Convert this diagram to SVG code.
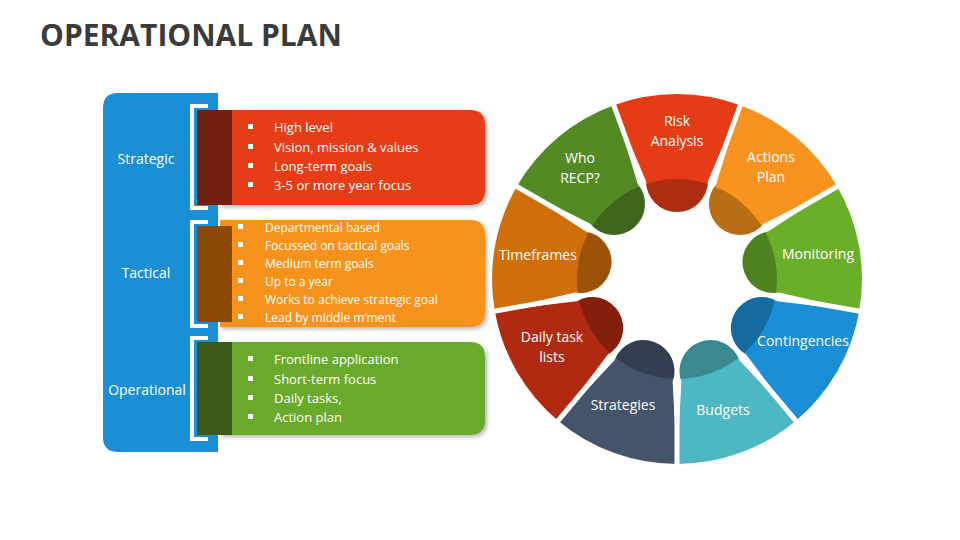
<svg xmlns="http://www.w3.org/2000/svg" width="960" height="540" viewBox="0 0 960 540">
<defs>
<style>
text{font-family:"Open Sans","Noto Sans","Liberation Sans",sans-serif;fill:#fff}
.t{font-size:30px;font-weight:bold;fill:#3b3b3b}
.lab{font-size:14px;text-anchor:middle;dominant-baseline:central}
.b{font-size:13px;dominant-baseline:central}
.bs{font-size:12px;dominant-baseline:central}
.br{fill:none;stroke:#fff;stroke-width:4}
.ov{fill:#000;fill-opacity:0.25}
.gap{stroke:#fff;stroke-width:5}
</style>
<path id="sg" d="M-63.27 -173.84 A185 185 0 0 1 63.27 -173.84 L31 -98 A31 31 0 0 1 -31 -98 Z"/>
<clipPath id="ic"><circle cx="0" cy="0" r="100"/></clipPath>
<filter id="sh" x="-5%" y="-10%" width="115%" height="125%"><feDropShadow dx="2" dy="2" stdDeviation="2" flood-opacity="0.3"/></filter>
</defs>
<rect width="960" height="540" fill="#fff"/>
<text class="t" x="40" y="46">OPERATIONAL PLAN</text>

<g id="panel">
<path d="M118 93 H218 V452 H118 Q103 452 103 437 V108 Q103 93 118 93 Z" fill="#1a8fd6"/>
<text class="lab" x="146" y="158">Strategic</text>
<text class="lab" x="146" y="272">Tactical</text>
<text class="lab" x="147" y="389">Operational</text>
</g>

<g id="strategic">
<path class="br" d="M208 106 H192 V208 H208"/>
<path d="M220 110 H470 Q485 110 485 125 V190 Q485 205 470 205 H220 Z" fill="#e63c16" filter="url(#sh)"/>
<rect x="197" y="110" width="35" height="95" fill="#722010"/>
<g fill="#fff"><rect x="248" y="124" width="5" height="5"/><rect x="248" y="144" width="5" height="5"/><rect x="248" y="163" width="5" height="5"/><rect x="248" y="182" width="5" height="5"/></g>
<text class="b" x="274" y="127">High level</text>
<text class="b" x="274" y="147">Vision, mission &amp; values</text>
<text class="b" x="274" y="166">Long-term goals</text>
<text class="b" x="274" y="185">3-5 or more year focus</text>
</g>

<g id="tactical">
<path class="br" d="M208 222 H192 V326 H208"/>
<path d="M220 220 H470 Q485 220 485 235 V312 Q485 327 470 327 H220 Z" fill="#f7931e" filter="url(#sh)"/>
<rect x="197" y="226" width="35" height="96" fill="#8a4a05"/>
<g fill="#fff"><rect x="238" y="224" width="5" height="5"/><rect x="238" y="242" width="5" height="5"/><rect x="238" y="260" width="5" height="5"/><rect x="238" y="278" width="5" height="5"/><rect x="238" y="296" width="5" height="5"/><rect x="238" y="314" width="5" height="5"/></g>
<text class="bs" x="265" y="227">Departmental based</text>
<text class="bs" x="265" y="245">Focussed on tactical goals</text>
<text class="bs" x="265" y="263">Medium term goals</text>
<text class="bs" x="265" y="281">Up to a year</text>
<text class="bs" x="265" y="299">Works to achieve strategic goal</text>
<text class="bs" x="265" y="317">Lead by middle m’ment</text>
</g>

<g id="operational">
<path class="br" d="M208 338 H192 V439 H208"/>
<path d="M220 342 H470 Q485 342 485 357 V420 Q485 435 470 435 H220 Z" fill="#6aaa2a" filter="url(#sh)"/>
<rect x="197" y="342" width="35" height="93" fill="#3a5a16"/>
<g fill="#fff"><rect x="248" y="356" width="5" height="5"/><rect x="248" y="376" width="5" height="5"/><rect x="248" y="395" width="5" height="5"/><rect x="248" y="414" width="5" height="5"/></g>
<text class="b" x="274" y="359">Frontline application</text>
<text class="b" x="274" y="379">Short-term focus</text>
<text class="b" x="274" y="398">Daily tasks,</text>
<text class="b" x="274" y="417">Action plan</text>
</g>

<g id="ring" transform="translate(677 279)">
<g id="seg-risk"><use href="#sg" fill="#e63c16"/><use href="#sg" class="ov" clip-path="url(#ic)"/></g>
<g id="seg-actions" transform="rotate(40)"><use href="#sg" fill="#f7931e"/><use href="#sg" class="ov" clip-path="url(#ic)"/></g>
<g id="seg-monitoring" transform="rotate(80)"><use href="#sg" fill="#6aaf2a"/><use href="#sg" class="ov" clip-path="url(#ic)"/></g>
<g id="seg-contingencies" transform="rotate(120)"><use href="#sg" fill="#1a8fd6"/><use href="#sg" class="ov" clip-path="url(#ic)"/></g>
<g id="seg-budgets" transform="rotate(160)"><use href="#sg" fill="#4db8c2"/><use href="#sg" class="ov" clip-path="url(#ic)"/></g>
<g id="seg-strategies" transform="rotate(200)"><use href="#sg" fill="#43546b"/><use href="#sg" class="ov" clip-path="url(#ic)"/></g>
<g id="seg-daily" transform="rotate(240)"><use href="#sg" fill="#b02a12"/><use href="#sg" class="ov" clip-path="url(#ic)"/></g>
<g id="seg-timeframes" transform="rotate(280)"><use href="#sg" fill="#d06f0a"/><use href="#sg" class="ov" clip-path="url(#ic)"/></g>
<g id="seg-who" transform="rotate(320)"><use href="#sg" fill="#548a24"/><use href="#sg" class="ov" clip-path="url(#ic)"/></g>
<g id="gaps">
<line class="gap" x1="-36.9" y1="-101.5" x2="-65" y2="-178.6"/>
<line class="gap" x1="-36.9" y1="-101.5" x2="-65" y2="-178.6" transform="rotate(40)"/>
<line class="gap" x1="-36.9" y1="-101.5" x2="-65" y2="-178.6" transform="rotate(80)"/>
<line class="gap" x1="-36.9" y1="-101.5" x2="-65" y2="-178.6" transform="rotate(120)"/>
<line class="gap" x1="-36.9" y1="-101.5" x2="-65" y2="-178.6" transform="rotate(160)"/>
<line class="gap" x1="-36.9" y1="-101.5" x2="-65" y2="-178.6" transform="rotate(200)"/>
<line class="gap" x1="-36.9" y1="-101.5" x2="-65" y2="-178.6" transform="rotate(240)"/>
<line class="gap" x1="-36.9" y1="-101.5" x2="-65" y2="-178.6" transform="rotate(280)"/>
<line class="gap" x1="-36.9" y1="-101.5" x2="-65" y2="-178.6" transform="rotate(320)"/>
</g>
</g>
<g id="ring-labels">
<text class="lab" x="677" y="120">Risk</text><text class="lab" x="677" y="140">Analysis</text>
<text class="lab" x="771" y="156">Actions</text><text class="lab" x="771" y="176">Plan</text>
<text class="lab" x="818" y="253">Monitoring</text>
<text class="lab" x="803" y="340">Contingencies</text>
<text class="lab" x="723" y="409">Budgets</text>
<text class="lab" x="623" y="404">Strategies</text>
<text class="lab" x="552" y="336">Daily task</text><text class="lab" x="552" y="356">lists</text>
<text class="lab" x="538" y="254">Timeframes</text>
<text class="lab" x="580" y="157">Who</text><text class="lab" x="580" y="177">RECP?</text>
</g>
</svg>
